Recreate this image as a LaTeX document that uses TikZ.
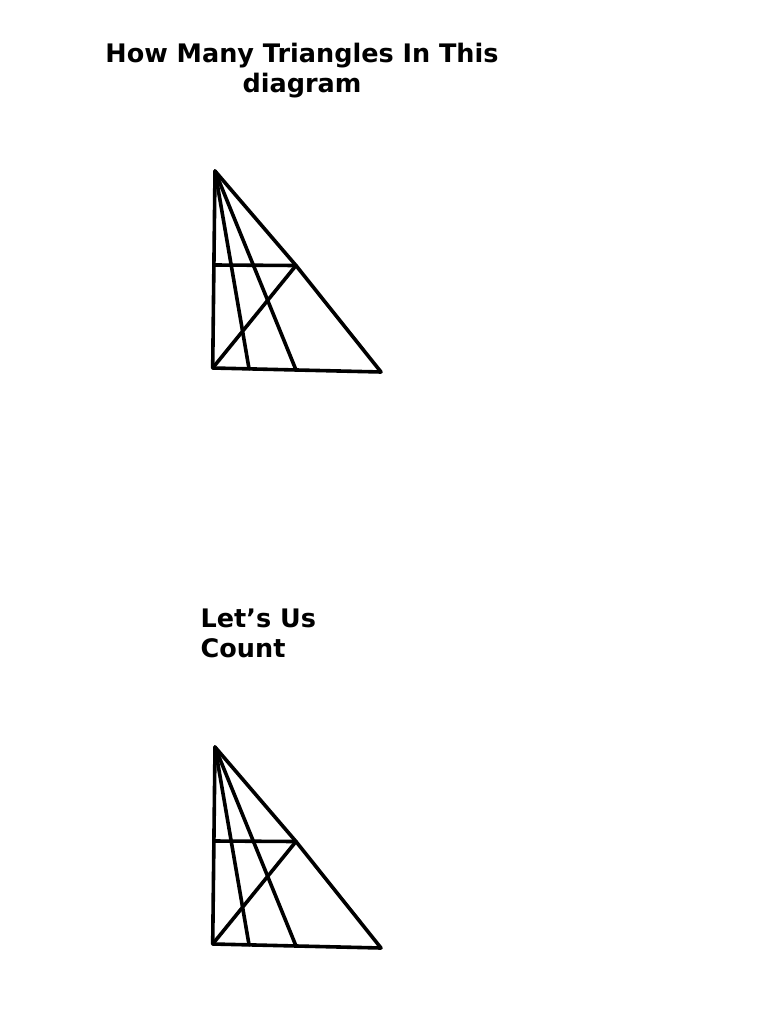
\documentclass[tikz,border=0pt]{standalone}
\usepackage{fontspec}
\setmainfont{DejaVu Sans}
\usetikzlibrary{calc}
\tikzset{edge/.style={line width=3.6pt, line cap=round, line join=round},
 heading/.style={font=\fontsize{25.5}{30}\selectfont\bfseries, inner sep=0pt},
 }

\begin{document}
\begin{tikzpicture}[x=1pt, y=-1pt]
        \useasboundingbox (0,0) rectangle (768,1024);
        \node[heading, align=center, anchor=north] (title) at (302,42.5) {How Many Triangles In This\\diagram};
        \node[heading, align=left, anchor=north west] (count) at (200.5,608.5) {Let’s Us\\Count};
        \foreach \dy in {0,576} {
            \begin{scope}[yshift=-\dy pt]
                \coordinate (apex) at (215,171);
                \coordinate (bl) at (212.7,368);
                \coordinate (br) at (381,372);
                \coordinate (mid) at (296,265.5);
                \coordinate (side) at (213.8,265);
                \coordinate (foot1) at ($(bl)!0.216!(br)$);
                \coordinate (foot2) at ($(bl)!0.495!(br)$);
                \draw[edge] (apex) -- (bl) -- (br) -- (mid) -- cycle;
                \draw[edge] (apex) -- (foot1);
                \draw[edge] (apex) -- (foot2);
                \draw[edge] (side) -- (mid);
                \draw[edge] (bl) -- (mid);
            \end{scope}
        }
    \end{tikzpicture}
\end{document}
